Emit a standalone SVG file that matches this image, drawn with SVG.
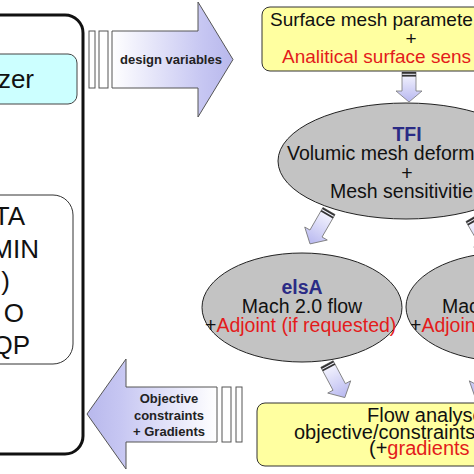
<svg xmlns="http://www.w3.org/2000/svg" width="474" height="474" viewBox="0 0 474 474">
<style>
text { font-family: "Liberation Sans", Arial, sans-serif; fill: #111; }
.big { font-size: 26px; text-anchor: end; }
.t19 { font-size: 19.5px; }
.t20 { font-size: 20px; }
.mid { text-anchor: middle; }
.red { fill: #e31b1b; }
.navy { fill: #2b2b86; font-weight: bold; }
.lbl { font-size: 13px; font-weight: bold; fill: #222; text-anchor: middle; }
.ell { fill: #c3c3c3; stroke: #222; stroke-width: 1; }
.ybox { fill: #ffffa0; stroke: #333; stroke-width: 1; }
.bar { fill: #fff; stroke: #555; stroke-width: 1; }
.bigarr { stroke: #555; stroke-width: 1; }
.sarr { fill: url(#gA); stroke: #777; stroke-width: 0.8; }
.stripe { fill: #333; }
</style>
<defs>
  <linearGradient id="gR" x1="0" y1="0" x2="1" y2="0">
    <stop offset="0" stop-color="#ffffff"/>
    <stop offset="0.75" stop-color="#c6c6f2"/>
    <stop offset="1" stop-color="#b8b8ec"/>
  </linearGradient>
  <linearGradient id="gL" x1="1" y1="0" x2="0" y2="0">
    <stop offset="0" stop-color="#ffffff"/>
    <stop offset="0.75" stop-color="#c6c6f2"/>
    <stop offset="1" stop-color="#b8b8ec"/>
  </linearGradient>
  <linearGradient id="gA" x1="0" y1="0" x2="0" y2="1">
    <stop offset="0" stop-color="#f8f8ff"/>
    <stop offset="1" stop-color="#b8b8f0"/>
  </linearGradient>
  <g id="arrV">
    <path class="sarr" d="M-7,0 H7 V19 H13 L0,30 L-13,19 H-7 Z"/>
    <rect class="stripe" x="-7" y="0" width="14" height="1.8"/>
    <rect class="stripe" x="-7" y="2.8" width="14" height="1.8"/>
  </g>
  <g id="arrD">
    <path class="sarr" d="M-7,0 H7 V26 H13 L0,38 L-13,26 H-7 Z"/>
    <rect class="stripe" x="-7" y="0" width="14" height="1.8"/>
    <rect class="stripe" x="-7" y="2.8" width="14" height="1.8"/>
  </g>
</defs>

<g id="optimizer">
  <rect x="-30" y="15" width="113" height="439" rx="18" fill="#fff" stroke="#111" stroke-width="3"/>
  <g id="optimizer-title">
    <rect x="-30" y="54" width="107" height="50" rx="9" fill="#ccffff" stroke="#444" stroke-width="1"/>
    <text class="big" x="34" y="88">zer</text>
  </g>
  <g id="optimizer-list">
    <rect x="-30" y="195" width="103" height="169" rx="20" fill="#fff" stroke="#333" stroke-width="1"/>
    <text class="big" x="25" y="225">TA</text>
    <text class="big" x="39" y="258">MIN</text>
    <text class="big" x="10" y="290">)</text>
    <text class="big" x="24" y="322">O</text>
    <text class="big" x="30" y="354">QP</text>
  </g>
</g>

<g id="surface-mesh">
  <rect class="ybox" x="262" y="7" width="240" height="64" rx="8"/>
  <text class="t19" x="270" y="26" style="font-size:19px">Surface mesh paramete</text>
  <text class="t19 mid" x="411" y="45" style="font-size:19px">+</text>
  <text class="t19 red" x="282" y="63" style="font-size:19px">Analitical surface sens</text>
</g>

<g id="tfi">
  <ellipse class="ell" cx="406" cy="161" rx="128" ry="58"/>
  <text class="t19 mid navy" x="407" y="141">TFI</text>
  <text class="t19" x="287" y="160">Volumic mesh deform</text>
  <text class="t19 mid" x="407" y="180">+</text>
  <text class="t19" x="330" y="198">Mesh sensitivitie</text>
</g>

<g id="elsa-1">
  <ellipse class="ell" cx="302" cy="307.5" rx="100" ry="54.5"/>
  <text class="t19 mid navy" x="302" y="294">elsA</text>
  <text class="t19 mid" x="302" y="313">Mach 2.0 flow</text>
  <text class="t19" x="205" y="332">+<tspan class="red">Adjoint (if requested)</tspan></text>
</g>

<g id="elsa-2">
  <ellipse class="ell" cx="506" cy="307" rx="100" ry="54.5"/>
  <text class="t19" x="442" y="313">Mac</text>
  <text class="t19" x="410" y="332">+<tspan class="red">Adjoin</tspan></text>
</g>

<g id="flow-analysis">
  <rect class="ybox" x="257" y="403" width="245" height="63" rx="8"/>
  <text class="t20" x="367" y="422">Flow analyse</text>
  <text class="t20" x="294" y="439">objective/constraints</text>
  <text class="t20" x="369" y="455">(+<tspan class="red">gradients</tspan></text>
</g>

<g id="connectors">
  <g id="design-variables">
    <rect class="bar" x="89" y="31" width="6" height="57"/>
    <rect class="bar" x="99" y="31" width="9" height="57"/>
    <path class="bigarr" fill="url(#gR)" d="M112,31 H198 V2 L233,59.5 L198,117 V88 H112 Z"/>
    <text class="lbl" x="171" y="64">design variables</text>
  </g>
  <g id="objective-gradients">
    <path class="bigarr" fill="url(#gL)" d="M217,387 H126 V359 L87,414 L126,469 V442 H217 Z"/>
    <rect class="bar" x="222" y="387" width="9" height="55"/>
    <rect class="bar" x="236" y="387" width="6" height="55"/>
    <text class="lbl" x="169" y="403">Objective</text>
    <text class="lbl" x="169" y="420">constraints</text>
    <text class="lbl" x="169" y="436">+ Gradients</text>
  </g>
  <use href="#arrV" transform="translate(409,72)"/>
  <use href="#arrD" transform="translate(329,211) rotate(30)"/>
  <use href="#arrD" transform="translate(472,218) rotate(-30)"/>
  <use href="#arrD" transform="translate(327,364) rotate(-28)"/>
  <use href="#arrD" transform="translate(493,364) rotate(28)"/>
</g>
</svg>
